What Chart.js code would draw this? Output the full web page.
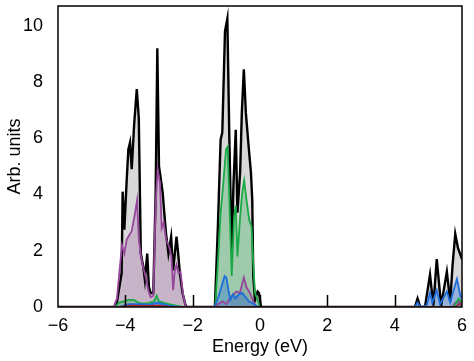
<!DOCTYPE html>
<html>
<head>
<meta charset="utf-8">
<script src="https://cdn.jsdelivr.net/npm/chart.js@4.4.1/dist/chart.umd.min.js"></script>
<style>
  html, body { margin: 0; padding: 0; background: #fff; }
  #wrap { width: 474px; height: 361px; }
</style>
</head>
<body>
<div id="wrap"><canvas id="dosChart"></canvas></div>
<script>
// values (energy in eV, density in arb. units)
const totalE = [-6, -4.3, -4.26, -4.11, -4.08, -4.03, -3.96, -3.91, -3.86, -3.81, -3.74, -3.66, -3.6, -3.54, -3.47, -3.42, -3.35, -3.3, -3.25, -3.17, -3.1, -3.05, -3.0, -2.94, -2.89, -2.84, -2.79, -2.72, -2.64, -2.58, -2.48, -2.43, -2.38, -2.3, -2.22, -2.18,
  -1.4, -1.34, -1.25, -1.17, -1.12, -1.04, -0.97, -0.91, -0.84, -0.79, -0.72, -0.67, -0.59, -0.54, -0.48, -0.42, -0.33, -0.27, -0.23, -0.2, -0.15, -0.07, -0.03, 0.03,
  4.6, 4.68, 4.76, 4.9, 5.05, 5.15, 5.25, 5.38, 5.55, 5.65, 5.72, 5.8, 5.88, 6.0];
const totalY = [0, 0, 0.1, 1.2, 4.1, 2.75, 4.5, 5.6, 5.85, 4.9, 6.45, 7.75, 6.7, 1.9, 1.45, 0.97, 1.9, 0.72, 0.5, 0.5, 4.0, 9.2, 5.0, 4.5, 4.05, 3.3, 2.6, 1.9, 2.5, 1.3, 2.5, 1.9, 1.2, 0.5, 0.1, 0,
  0, 0, 2.9, 5.95, 6.2, 9.8, 10.25, 5.95, 1.9, 4.3, 6.3, 3.35, 4.8, 6.9, 8.45, 6.9, 5.6, 4.8, 3.8, 1.1, 0.25, 0.55, 0.5, 0,
  0, 0.3, 0, 0, 1.15, 0.05, 1.7, 0.05, 1.25, 0.2, 1.5, 2.6, 2.1, 1.7];

const purpleE = [-6, -4.35, -4.25, -4.18, -4.1, -4.03, -3.96, -3.91, -3.81, -3.71, -3.65, -3.6, -3.54, -3.47, -3.4, -3.32, -3.25, -3.17, -3.1, -3.04, -2.97, -2.92, -2.86, -2.79, -2.7, -2.63, -2.58, -2.53, -2.48, -2.42, -2.36, -2.28, -2.2,
  -1.35, -1.25, -1.1, -1.0, -0.9, -0.8, -0.7, -0.6, -0.48, -0.4, -0.3, -0.2, -0.1, 5.7, 5.8, 5.9, 6.0];
const purpleY = [0, 0, 0.3, 1.2, 2.2, 1.9, 2.4, 2.5, 2.7, 3.35, 3.8, 2.4, 1.85, 1.4, 1.1, 0.6, 0.35, 0.4, 3.6, 4.9, 4.4, 2.8, 3.0, 2.4, 2.15, 1.8, 0.6, 1.3, 1.5, 1.2, 1.25, 0.4, 0,
  0, 0.1, 0.2, 0.1, 0.3, 0.45, 0.55, 0.5, 1.05, 0.7, 0.5, 0.2, 0, 0, 0.15, 0.2, 0.1];

const greenE = [-6, -4.3, -4.2, -4.05, -3.9, -3.75, -3.6, -3.45, -3.3, -3.15, -3.07, -3.0, -2.85, -2.7, -2.5, -2.3,
  -1.4, -1.33, -1.25, -1.17, -1.09, -1.01, -0.96, -0.91, -0.84, -0.77, -0.72, -0.67, -0.59, -0.53, -0.47, -0.4, -0.32, -0.25, -0.2, -0.15, -0.07, 0.0,
  5.75, 5.9, 6.0];
const greenY = [0, 0, 0.15, 0.2, 0.25, 0.25, 0.15, 0.12, 0.15, 0.2, 0.4, 0.2, 0.15, 0.1, 0.05, 0,
  0, 0, 1.6, 3.35, 4.4, 5.6, 5.7, 3.8, 1.1, 3.2, 3.6, 1.8, 3.2, 4.05, 4.5, 3.8, 3.1, 2.85, 1.55, 0.5, 0.25, 0,
  0, 0.3, 0.15];

const blueE = [-6, -4.2, -3.9, -3.6, -3.3, -3.05, -2.7, -2.4,
  -1.35, -1.25, -1.15, -1.05, -1.0, -0.93, -0.88, -0.8, -0.73, -0.63, -0.53, -0.43, -0.33, -0.18, -0.05,
  4.6, 4.68, 4.76, 4.95, 5.05, 5.12, 5.25, 5.35, 5.55, 5.65, 5.75, 5.85, 5.95, 6.0];
const blueY = [0, 0, 0.1, 0.1, 0.08, 0.15, 0.05, 0,
  0, 0.3, 0.7, 1.1, 1.05, 0.55, 0.25, 0.45, 0.3, 0.45, 0.5, 0.35, 0.2, 0.1, 0,
  0, 0.15, 0, 0.05, 0.5, 0.15, 0.6, 0.1, 0.55, 0.15, 0.6, 1.0, 0.4, 0.3];

const redE = [-6, -4.2, -3.8, -3.4, -3.0, -2.6, 5.8, 5.92, 6.0];
const redY = [0, 0, 0.05, 0.04, 0.05, 0, 0, 0.12, 0.05];

const xTicks = [-4, -2, 0, 2, 4];
const yTicks = [0, 2, 4, 6, 8, 10];

const toPoints = (xs, ys) => xs.map((x, i) => ({ x: x, y: ys[i] }));

const frame = {
  id: 'frame',
  afterDraw(chart) {
    const { ctx, chartArea, scales } = chart;
    ctx.save();
    ctx.strokeStyle = '#000';
    ctx.lineWidth = 1.5;
    // inward ticks on the energy axis
    ctx.beginPath();
    xTicks.forEach(v => {
      const px = Math.round(scales.x.getPixelForValue(v)) + 0.5;
      ctx.moveTo(px, chartArea.bottom);
      ctx.lineTo(px, chartArea.bottom - 12);
    });
    ctx.stroke();
    ctx.strokeRect(chartArea.left, chartArea.top, chartArea.right - chartArea.left, chartArea.bottom - chartArea.top);
    ctx.restore();
  }
};

const ctx = document.getElementById('dosChart').getContext('2d');
new Chart(ctx, {
  type: 'line',
  data: {
    datasets: [
      { data: toPoints(redE, redY), borderColor: 'rgb(170,30,40)', borderWidth: 1.5, fill: false, order: 0 },
      { data: toPoints(blueE, blueY), borderColor: 'rgb(30,110,220)', backgroundColor: 'rgba(30,110,220,0.35)', borderWidth: 1.8, fill: 'origin', order: 1 },
      { data: toPoints(greenE, greenY), borderColor: 'rgb(25,170,70)', backgroundColor: 'rgba(25,170,70,0.3)', borderWidth: 1.8, fill: 'origin', order: 2 },
      { data: toPoints(purpleE, purpleY), borderColor: 'rgb(150,70,155)', backgroundColor: 'rgba(150,70,155,0.25)', borderWidth: 1.8, fill: 'origin', order: 3 },
      { data: toPoints(totalE, totalY), borderColor: '#000', backgroundColor: 'rgb(216,216,216)', borderWidth: 2.4, fill: 'origin', order: 4 }
    ]
  },
  options: {
    responsive: true,
    maintainAspectRatio: false,
    animation: false,
    parsing: false,
    elements: { point: { radius: 0 }, line: { tension: 0 } },
    layout: { padding: { top: 6, right: 12, left: 0, bottom: 0 } },
    plugins: {
      legend: { display: false },
      tooltip: { enabled: false },
      filler: { drawTime: 'beforeDatasetsDraw' }
    },
    scales: {
      x: {
        type: 'linear',
        min: -6,
        max: 6,
        grid: { display: false },
        border: { display: false },
        afterFit: s => { s.height = 54; s.paddingLeft = 0; s.paddingRight = 0; },
        afterBuildTicks: s => { s.ticks = [-6, ...xTicks, 6].map(v => ({ value: v })); },
        ticks: {
          color: '#000',
          padding: 0,
          maxRotation: 0,
          font: { family: 'Liberation Sans', size: 18 },
          callback: v => String(v).replace('-', '\u2212')
        },
        title: {
          display: true,
          text: 'Energy (eV)',
          color: '#000',
          padding: { top: 0, bottom: 3 },
          font: { family: 'Liberation Sans', size: 18 }
        }
      },
      y: {
        min: 0,
        max: 10.7,
        grid: { display: false },
        border: { display: false },
        afterFit: s => { s.width = 58; s.paddingTop = 0; s.paddingBottom = 0; },
        afterBuildTicks: s => { s.ticks = yTicks.map(v => ({ value: v })); },
        ticks: {
          color: '#000',
          padding: 7,
          font: { family: 'Liberation Sans', size: 18 }
        },
        title: {
          display: true,
          text: 'Arb. units',
          color: '#000',
          padding: { top: 4, bottom: 4 },
          font: { family: 'Liberation Sans', size: 18 }
        }
      }
    }
  },
  plugins: [frame]
});
</script>
</body>
</html>
